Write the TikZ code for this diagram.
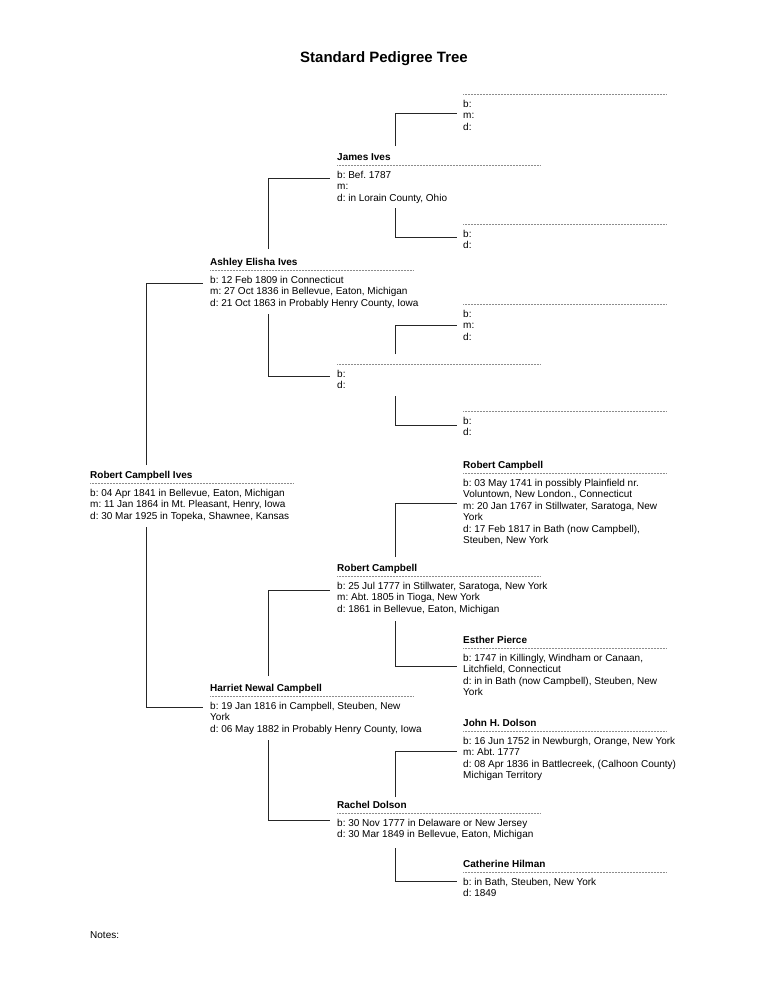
\documentclass[tikz,border=0pt]{standalone}
\usepackage{fontspec}
\setmainfont{Liberation Sans}
\frenchspacing
\tikzset{
  dotline/.style={draw=black!45, line width=0.5pt, dash pattern=on 0.6pt off 0.9pt},
  conn/.style={draw=black!85, line width=1pt},
  nametext/.style={anchor=base west, inner sep=0pt, font=\bfseries\fontsize{10}{12}\selectfont, text=black},
  datatext/.style={anchor=base west, inner sep=0pt, font=\fontsize{10}{11.5}\selectfont, text=black},
}
\newcommand{\dlines}[1]{\parbox[t]{260pt}{\raggedright\frenchspacing #1}}
\newcommand{\person}[5]{%
  \draw[dotline] (#2,#3) -- ++(203,0);
  \node[nametext] (#1n) at (#2,#3-4.5) {#4};
  \node[datatext] (#1d) at (#2,#3+13) {\dlines{#5}};
}
\begin{document}
\begin{tikzpicture}[x=1pt,y=-1pt]
\fill[white] (0,0) rectangle (768,994);
\useasboundingbox (0,0) rectangle (768,994);

\node[anchor=base, inner sep=0pt, font=\bfseries\fontsize{15}{17}\selectfont, text=black] (title) at (384,62) {Standard Pedigree Tree};

% generation 1
\person{rci}{90}{483}{Robert Campbell Ives}{b: 04 Apr 1841 in Bellevue, Eaton, Michigan\\m: 11 Jan 1864 in Mt. Pleasant, Henry, Iowa\\d: 30 Mar 1925 in Topeka, Shawnee, Kansas}
% generation 2
\person{ash}{210}{270}{Ashley Elisha Ives}{b: 12 Feb 1809 in Connecticut\\m: 27 Oct 1836 in Bellevue, Eaton, Michigan\\d: 21 Oct 1863 in Probably Henry County, Iowa}
\person{har}{210}{696}{Harriet Newal Campbell}{b: 19 Jan 1816 in Campbell, Steuben, New\\York\\d: 06 May 1882 in Probably Henry County, Iowa}
% generation 3
\person{jam}{337}{165}{James Ives}{b: Bef. 1787\\m:\\d: in Lorain County, Ohio}
\person{amo}{337}{364}{}{b:\\d:}
\person{rcb}{337}{576}{Robert Campbell}{b: 25 Jul 1777 in Stillwater, Saratoga, New York\\m: Abt. 1805 in Tioga, New York\\d: 1861 in Bellevue, Eaton, Michigan}
\person{rac}{337}{813}{Rachel Dolson}{b: 30 Nov 1777 in Delaware or New Jersey\\d: 30 Mar 1849 in Bellevue, Eaton, Michigan}
% generation 4
\person{jif}{463}{94}{}{b:\\m:\\d:}
\person{jim}{463}{224}{}{b:\\d:}
\person{amf}{463}{304}{}{b:\\m:\\d:}
\person{amm}{463}{411}{}{b:\\d:}
\person{rca}{463}{473}{Robert Campbell}{b: 03 May 1741 in possibly Plainfield nr.\\Voluntown, New London., Connecticut\\m: 20 Jan 1767 in Stillwater, Saratoga, New\\York\\d: 17 Feb 1817 in Bath (now Campbell),\\Steuben, New York}
\person{est}{463}{648}{Esther Pierce}{b: 1747 in Killingly, Windham or Canaan,\\Litchfield, Connecticut\\d: in in Bath (now Campbell), Steuben, New\\York}
\person{joh}{463}{731}{John H. Dolson}{b: 16 Jun 1752 in Newburgh, Orange, New York\\m: Abt. 1777\\d: 08 Apr 1836 in Battlecreek, (Calhoon County)\\Michigan Territory}
\person{cat}{463}{872}{Catherine Hilman}{b: in Bath, Steuben, New York\\d: 1849}

% connector end points
\coordinate (rci-up) at (146,465);  \coordinate (rci-dn) at (146,527);
\coordinate (ash-in) at (203,283);  \coordinate (har-in) at (203,707);
\coordinate (ash-up) at (268,249);  \coordinate (ash-dn) at (268,314);
\coordinate (jam-in) at (330,178);  \coordinate (amo-in) at (330,376);
\coordinate (har-up) at (268,676);  \coordinate (har-dn) at (268,740);
\coordinate (rcb-in) at (330,590);  \coordinate (rac-in) at (330,820);
\coordinate (jam-up) at (395,146);  \coordinate (jam-dn) at (395,208);
\coordinate (jif-in) at (457,113);  \coordinate (jim-in) at (457,237);
\coordinate (amo-up) at (395,354);  \coordinate (amo-dn) at (395,396);
\coordinate (amf-in) at (457,325);  \coordinate (amm-in) at (457,425);
\coordinate (rcb-up) at (395,557);  \coordinate (rcb-dn) at (395,621);
\coordinate (rca-in) at (457,503);  \coordinate (est-in) at (457,666);
\coordinate (rac-up) at (395,797);  \coordinate (rac-dn) at (395,848);
\coordinate (joh-in) at (457,751);  \coordinate (cat-in) at (457,881);

\draw[conn] (rci-up) |- (ash-in);
\draw[conn] (rci-dn) |- (har-in);
\draw[conn] (ash-up) |- (jam-in);
\draw[conn] (ash-dn) |- (amo-in);
\draw[conn] (har-up) |- (rcb-in);
\draw[conn] (har-dn) |- (rac-in);
\draw[conn] (jam-up) |- (jif-in);
\draw[conn] (jam-dn) |- (jim-in);
\draw[conn] (amo-up) |- (amf-in);
\draw[conn] (amo-dn) |- (amm-in);
\draw[conn] (rcb-up) |- (rca-in);
\draw[conn] (rcb-dn) |- (est-in);
\draw[conn] (rac-up) |- (joh-in);
\draw[conn] (rac-dn) |- (cat-in);

\node[datatext] (notes) at (90,938.5) {Notes:};
\end{tikzpicture}
\end{document}
